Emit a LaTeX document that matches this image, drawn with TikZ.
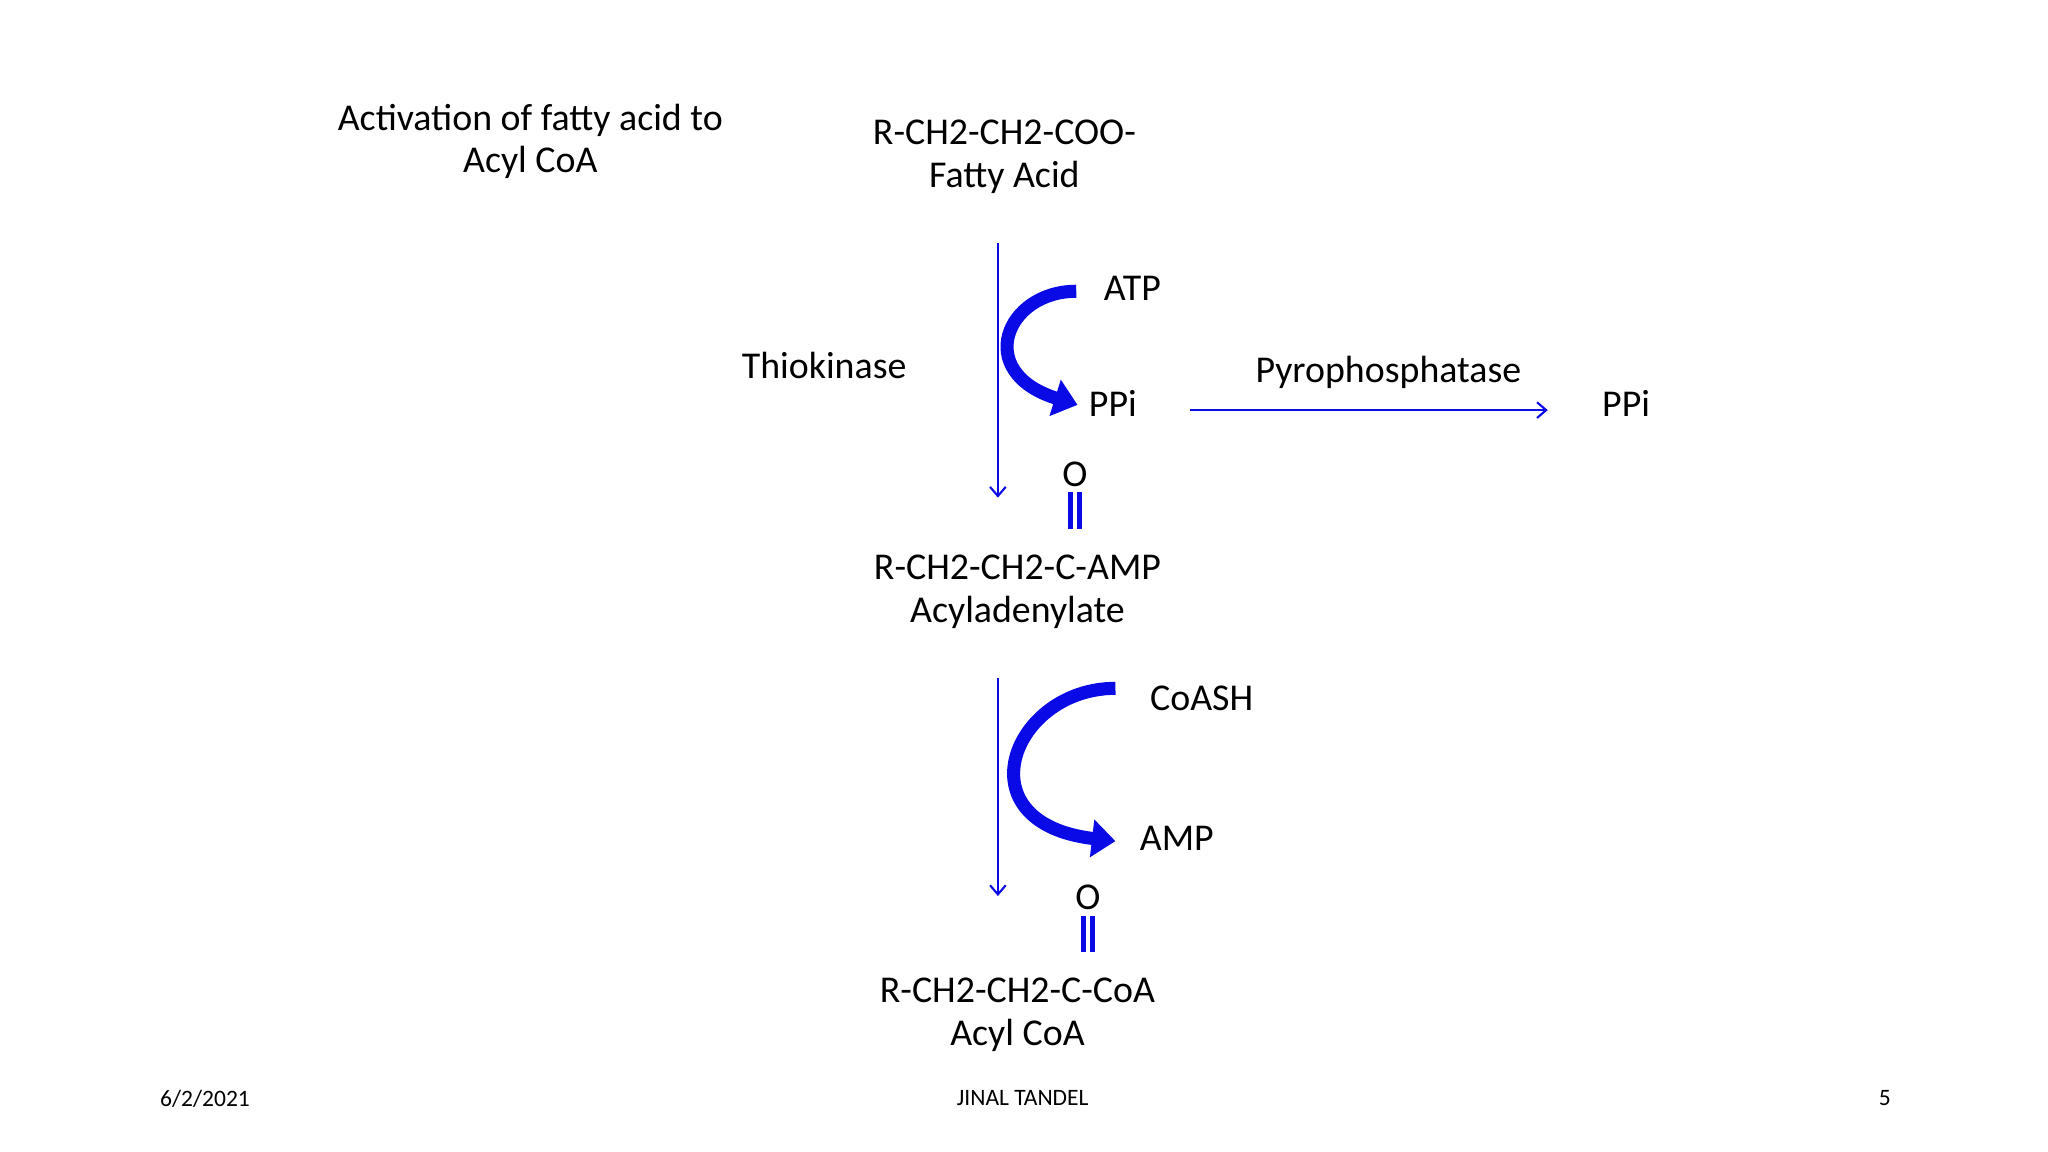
\documentclass[tikz,border=0pt]{standalone}
\usepackage{fontspec}
\setmainfont{Carlito}
\usetikzlibrary{arrows.meta}
\definecolor{bl}{RGB}{10,10,230}
\begin{document}
\begin{tikzpicture}[x=1pt,y=-1pt,
 t/.style={font=\fontsize{29}{32}\selectfont,inner sep=0pt},
 f/.style={font=\fontsize{18}{20}\selectfont,inner sep=0pt},
 thin arr/.style={draw=bl,line width=1.6pt,-{Straight Barb[length=7pt,width=12pt]}},
 big arr/.style={draw=bl,line width=10pt,-{Triangle[length=18pt,width=28pt]}},
 dbl/.style={draw=bl,line width=3.5pt}]
\useasboundingbox (0,0) rectangle (1568,882);
\node[t,align=center] (title) at (406,108) {Activation of fatty acid to\\Acyl CoA};
\node[t] (fa1) at (769,101) {R-CH2-CH2-COO-};
\node[t] (fa2) at (769,136) {Fatty Acid};
\node[t] (atp) at (867,221) {ATP};
\node[t] (ppi) at (852,309) {PPi};
\node[t] (thio) at (631,280) {Thiokinase};
\node[t] (pyro) at (1063,285) {Pyrophosphatase};
\node[t] (ppi2) at (1245,309) {PPi};
\node[t] (o1) at (823,363) {O};
\node[t] (aa1) at (779,434) {R-CH2-CH2-C-AMP};
\node[t] (aa2) at (779,469) {Acyladenylate};
\node[t] (coash) at (920,535) {CoASH};
\node[t] (amp) at (901,642) {AMP};
\node[t] (o2) at (833,687) {O};
\node[t] (ac1) at (779,758) {R-CH2-CH2-C-CoA};
\node[t] (ac2) at (779,793) {Acyl CoA};
\node[f] (date) at (157,841) {6/2/2021};
\node[f] (auth) at (783,841) {JINAL TANDEL};
\node[f] (pg) at (1443,841) {5};
\coordinate (a1s) at (764,186); \coordinate (a1e) at (764,381);
\coordinate (a2s) at (764,519); \coordinate (a2e) at (764,686);
\draw[thin arr] (a1s) -- (a1e);
\draw[thin arr] (a2s) -- (a2e);
\draw[thin arr] (911,314) -- (1185,314);
\coordinate (c1s) at (824,223); \coordinate (c1e) at (825,310);
\draw[big arr] (c1s) .. controls (770,223) and (745,285) .. (c1e);
\coordinate (c2s) at (854,527); \coordinate (c2e) at (854,644);
\draw[big arr] (c2s) .. controls (775,527) and (735,630) .. (c2e);
\draw[dbl] (819.5,377) -- (819.5,405); \draw[dbl] (826.5,377) -- (826.5,405);
\draw[dbl] (829.5,701) -- (829.5,729); \draw[dbl] (836.5,701) -- (836.5,729);
\end{tikzpicture}
\end{document}
